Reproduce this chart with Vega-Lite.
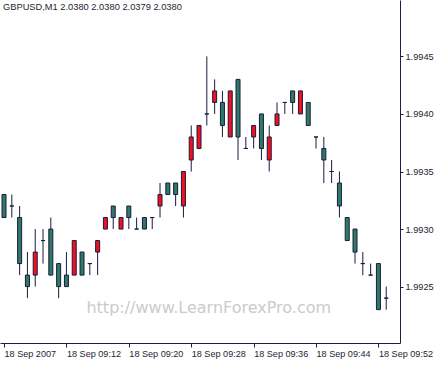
{
  "$schema": "https://vega.github.io/schema/vega-lite/v6.json",
  "width": 400,
  "height": 343,
  "autosize": {"type": "none"},
  "padding": {"left": 0, "top": 0, "right": 41, "bottom": 22},
  "background": "white",
  "title": {"text": "GBPUSD,M1  2.0380 2.0380 2.0379 2.0380", "anchor": "start", "frame": "group", "orient": "top", "offset": -12, "dx": 3, "font": "Liberation Sans", "fontSize": 9.3, "fontWeight": "normal", "color": "#1e1e32"},
  "config": {"view": {"stroke": null}},
  "data": {"values": [
    {"t": "2007-09-18 09:04", "open": 1.9933, "high": 1.9933, "low": 1.9931, "close": 1.9931},
    {"t": "2007-09-18 09:05", "open": 1.9932, "high": 1.9933, "low": 1.9931, "close": 1.9932},
    {"t": "2007-09-18 09:06", "open": 1.9931, "high": 1.9932, "low": 1.9926, "close": 1.9927},
    {"t": "2007-09-18 09:07", "open": 1.9926, "high": 1.9928, "low": 1.9924, "close": 1.9925},
    {"t": "2007-09-18 09:08", "open": 1.9926, "high": 1.9930, "low": 1.9925, "close": 1.9928},
    {"t": "2007-09-18 09:09", "open": 1.9929, "high": 1.9930, "low": 1.9927, "close": 1.9929},
    {"t": "2007-09-18 09:10", "open": 1.9930, "high": 1.9931, "low": 1.9926, "close": 1.9926},
    {"t": "2007-09-18 09:11", "open": 1.9927, "high": 1.9927, "low": 1.9924, "close": 1.9925},
    {"t": "2007-09-18 09:12", "open": 1.9926, "high": 1.9928, "low": 1.9925, "close": 1.9925},
    {"t": "2007-09-18 09:13", "open": 1.9926, "high": 1.9929, "low": 1.9926, "close": 1.9929},
    {"t": "2007-09-18 09:14", "open": 1.9928, "high": 1.9928, "low": 1.9926, "close": 1.9926},
    {"t": "2007-09-18 09:15", "open": 1.9927, "high": 1.9927, "low": 1.9926, "close": 1.9927},
    {"t": "2007-09-18 09:16", "open": 1.9928, "high": 1.9929, "low": 1.9926, "close": 1.9929},
    {"t": "2007-09-18 09:17", "open": 1.9930, "high": 1.9931, "low": 1.9930, "close": 1.9931},
    {"t": "2007-09-18 09:18", "open": 1.9932, "high": 1.9932, "low": 1.9930, "close": 1.9931},
    {"t": "2007-09-18 09:19", "open": 1.9930, "high": 1.9931, "low": 1.9930, "close": 1.9931},
    {"t": "2007-09-18 09:20", "open": 1.9932, "high": 1.9932, "low": 1.9930, "close": 1.9931},
    {"t": "2007-09-18 09:21", "open": 1.9930, "high": 1.9931, "low": 1.9930, "close": 1.9930},
    {"t": "2007-09-18 09:22", "open": 1.9931, "high": 1.9931, "low": 1.9930, "close": 1.9930},
    {"t": "2007-09-18 09:23", "open": 1.9931, "high": 1.9931, "low": 1.9930, "close": 1.9931},
    {"t": "2007-09-18 09:24", "open": 1.9932, "high": 1.9934, "low": 1.9931, "close": 1.9933},
    {"t": "2007-09-18 09:25", "open": 1.9934, "high": 1.9934, "low": 1.9933, "close": 1.9933},
    {"t": "2007-09-18 09:26", "open": 1.9934, "high": 1.9934, "low": 1.9932, "close": 1.9933},
    {"t": "2007-09-18 09:27", "open": 1.9932, "high": 1.9935, "low": 1.9931, "close": 1.9935},
    {"t": "2007-09-18 09:28", "open": 1.9936, "high": 1.9939, "low": 1.9935, "close": 1.9938},
    {"t": "2007-09-18 09:29", "open": 1.9937, "high": 1.9939, "low": 1.9937, "close": 1.9939},
    {"t": "2007-09-18 09:30", "open": 1.9940, "high": 1.9945, "low": 1.9939, "close": 1.9940},
    {"t": "2007-09-18 09:31", "open": 1.9941, "high": 1.9943, "low": 1.9940, "close": 1.9942},
    {"t": "2007-09-18 09:32", "open": 1.9941, "high": 1.9942, "low": 1.9938, "close": 1.9939},
    {"t": "2007-09-18 09:33", "open": 1.9938, "high": 1.9942, "low": 1.9938, "close": 1.9942},
    {"t": "2007-09-18 09:34", "open": 1.9943, "high": 1.9943, "low": 1.9936, "close": 1.9938},
    {"t": "2007-09-18 09:35", "open": 1.9937, "high": 1.9938, "low": 1.9937, "close": 1.9937},
    {"t": "2007-09-18 09:36", "open": 1.9938, "high": 1.9939, "low": 1.9937, "close": 1.9939},
    {"t": "2007-09-18 09:37", "open": 1.9940, "high": 1.9940, "low": 1.9936, "close": 1.9937},
    {"t": "2007-09-18 09:38", "open": 1.9936, "high": 1.9939, "low": 1.9935, "close": 1.9938},
    {"t": "2007-09-18 09:39", "open": 1.9939, "high": 1.9941, "low": 1.9939, "close": 1.9940},
    {"t": "2007-09-18 09:40", "open": 1.9941, "high": 1.9941, "low": 1.9940, "close": 1.9941},
    {"t": "2007-09-18 09:41", "open": 1.9942, "high": 1.9942, "low": 1.9940, "close": 1.9941},
    {"t": "2007-09-18 09:42", "open": 1.9940, "high": 1.9942, "low": 1.9940, "close": 1.9942},
    {"t": "2007-09-18 09:43", "open": 1.9941, "high": 1.9941, "low": 1.9939, "close": 1.9939},
    {"t": "2007-09-18 09:44", "open": 1.9938, "high": 1.9938, "low": 1.9937, "close": 1.9938},
    {"t": "2007-09-18 09:45", "open": 1.9937, "high": 1.9938, "low": 1.9934, "close": 1.9936},
    {"t": "2007-09-18 09:46", "open": 1.9935, "high": 1.9936, "low": 1.9934, "close": 1.9935},
    {"t": "2007-09-18 09:47", "open": 1.9934, "high": 1.9935, "low": 1.9931, "close": 1.9932},
    {"t": "2007-09-18 09:48", "open": 1.9931, "high": 1.9931, "low": 1.9929, "close": 1.9929},
    {"t": "2007-09-18 09:49", "open": 1.9930, "high": 1.9930, "low": 1.9927, "close": 1.9928},
    {"t": "2007-09-18 09:50", "open": 1.9927, "high": 1.9928, "low": 1.9926, "close": 1.9927},
    {"t": "2007-09-18 09:51", "open": 1.9926, "high": 1.9927, "low": 1.9926, "close": 1.9926},
    {"t": "2007-09-18 09:52", "open": 1.9927, "high": 1.9927, "low": 1.9923, "close": 1.9923},
    {"t": "2007-09-18 09:53", "open": 1.9924, "high": 1.9925, "low": 1.9923, "close": 1.9924}
  ]},
  "layer": [
    {
      "data": {"values": [{"label": "http://www.LearnForexPro.com"}]},
      "mark": {"type": "text", "font": "DejaVu Sans", "fontSize": 16, "color": "#cbcbcb", "baseline": "middle", "align": "center"},
      "encoding": {
        "x": {"datum": {"year": 2007, "month": 9, "date": 18, "hours": 9, "minutes": 30, "seconds": 15}, "type": "temporal"},
        "y": {"datum": 1.99231, "type": "quantitative"},
        "text": {"field": "label", "type": "nominal"}
      }
    },
    {
      "mark": {"type": "rule", "color": "#1a1a3c", "strokeWidth": 1},
      "encoding": {
        "x": {
          "field": "t", "type": "temporal",
          "scale": {"domain": [
            {"year": 2007, "month": 9, "date": 18, "hours": 9, "minutes": 4, "seconds": 7, "milliseconds": 500},
            {"year": 2007, "month": 9, "date": 18, "hours": 9, "minutes": 54, "seconds": 7, "milliseconds": 500}
          ]},
          "axis": {
            "orient": "bottom", "title": null, "grid": false,
            "values": [
              {"year": 2007, "month": 9, "date": 18, "hours": 9, "minutes": 4},
              {"year": 2007, "month": 9, "date": 18, "hours": 9, "minutes": 12},
              {"year": 2007, "month": 9, "date": 18, "hours": 9, "minutes": 20},
              {"year": 2007, "month": 9, "date": 18, "hours": 9, "minutes": 28},
              {"year": 2007, "month": 9, "date": 18, "hours": 9, "minutes": 36},
              {"year": 2007, "month": 9, "date": 18, "hours": 9, "minutes": 44},
              {"year": 2007, "month": 9, "date": 18, "hours": 9, "minutes": 52}
            ],
            "labelExpr": "minutes(datum.value) == 4 ? '18 Sep 2007' : timeFormat(datum.value, '%d %b %H:%M')",
            "labelAlign": "left", "labelFlush": false, "labelOverlap": false, "labelBound": false,
            "labelFont": "Liberation Sans", "labelFontSize": 9.1, "labelColor": "#1e1e32",
            "labelPadding": 2, "tickSize": 4, "tickColor": "#1e1e40", "domainColor": "#1e1e40"
          }
        },
        "y": {"field": "low", "type": "quantitative",
          "scale": {"domain": [1.99201, 1.99499], "zero": false, "nice": false},
          "axis": {"orient": "right", "title": null, "grid": false,
            "values": [1.9925, 1.993, 1.9935, 1.994, 1.9945, 1.995], "format": ".4f",
            "labelFont": "Liberation Sans", "labelFontSize": 9.2, "labelColor": "#1e1e32",
            "labelPadding": 2, "tickSize": 3, "tickColor": "#1e1e40", "domainColor": "#1e1e40", "labelFlush": false, "labelOverlap": false}},
        "y2": {"field": "high"}
      }
    },
    {
      "mark": {"type": "bar", "width": 4, "stroke": "#1a1a3c", "strokeWidth": 1},
      "encoding": {
        "x": {"field": "t", "type": "temporal"},
        "y": {"field": "open", "type": "quantitative"},
        "y2": {"field": "close"},
        "fill": {"condition": {"test": "datum.close > datum.open", "value": "#f2101e"}, "value": "#2e7a66"}
      }
    }
  ]
}
